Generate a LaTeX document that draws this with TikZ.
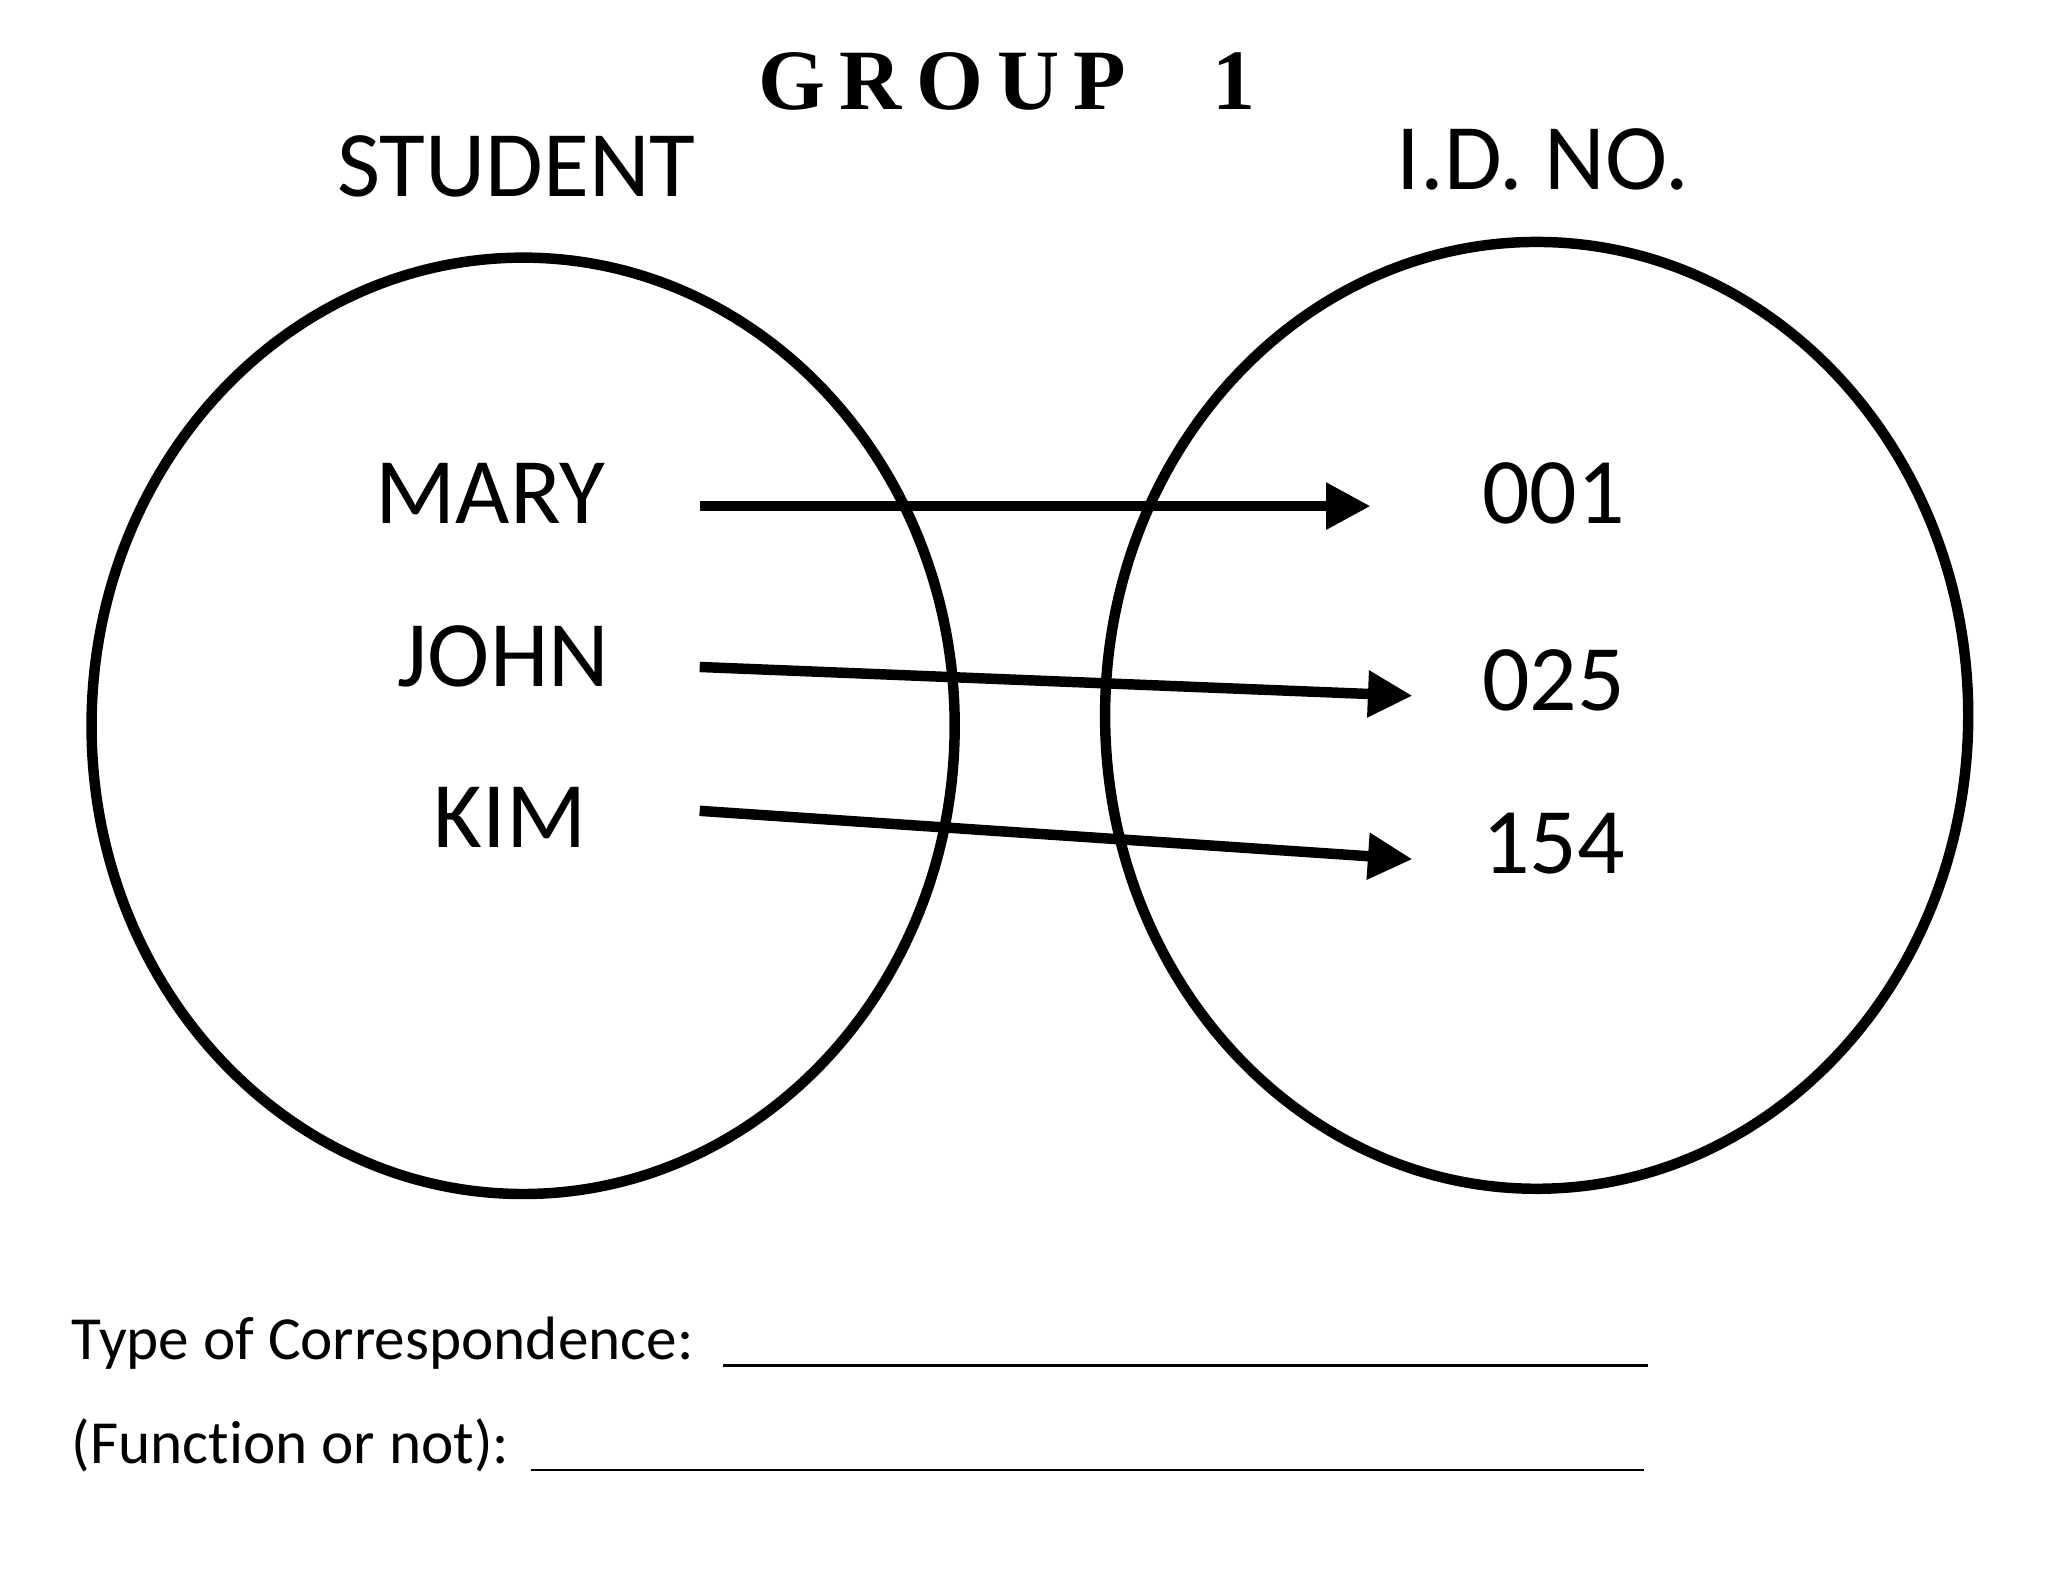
\documentclass[tikz,border=0pt]{standalone}
\usepackage{fontspec}
\setmainfont[Ligatures={NoCommon,NoRare,NoDiscretionary,NoContextual}]{Carlito}
\newfontfamily\grpfont{Liberation Serif}
\usetikzlibrary{arrows.meta}
\begin{document}
\begin{tikzpicture}[x=0.5bp,y=-0.5bp,
  setcirc/.style={line width=4bp},
  mapline/.style={line width=4bp,-{Triangle[length=17bp,width=17bp]}},
  big/.style={font=\fontsize{36}{40}\selectfont},
  small/.style={font=\fontsize{23.5}{26}\selectfont,anchor=west}]
\useasboundingbox (0,0) rectangle (1566,1210);
\draw[setcirc] (400,555) ellipse [x radius=330, y radius=358];
\draw[setcirc] (1175,547) ellipse [x radius=330, y radius=362];
\node (title) at (770,62) {\grpfont\bfseries\fontsize{33}{36}\selectfont G\,R\,O\,U\,P\quad 1};
\node[big] (stu) at (395,127) {STUDENT};
\node[big] (idno) at (1180,122) {I.D. NO.};
\node[big] (mary) at (375,377) {MARY};
\node[big] (john) at (385,502) {JOHN};
\node[big] (kim) at (390,625) {KIM};
\node[big] (n1) at (1188,377) {001};
\node[big] (n2) at (1188,520) {025};
\node[big] (n3) at (1188,645) {154};
\coordinate (a1) at (535,387); \coordinate (b1) at (1048,387);
\coordinate (a2) at (535,510); \coordinate (b2) at (1080,532);
\coordinate (a3) at (535,620); \coordinate (b3) at (1080,657);
\draw[mapline] (a1) -- (b1);
\draw[mapline] (a2) -- (b2);
\draw[mapline] (a3) -- (b3);
\node[small] (t1) at (48,1027) {Type of Correspondence:};
\node[small] (t2) at (48,1105) {(Function or not):};
\coordinate (e1) at (1260,1044); \coordinate (e2) at (1257,1124);
\draw[line width=1bp] (553,1044) -- (e1);
\draw[line width=1bp] (406,1124) -- (e2);
\end{tikzpicture}
\end{document}
